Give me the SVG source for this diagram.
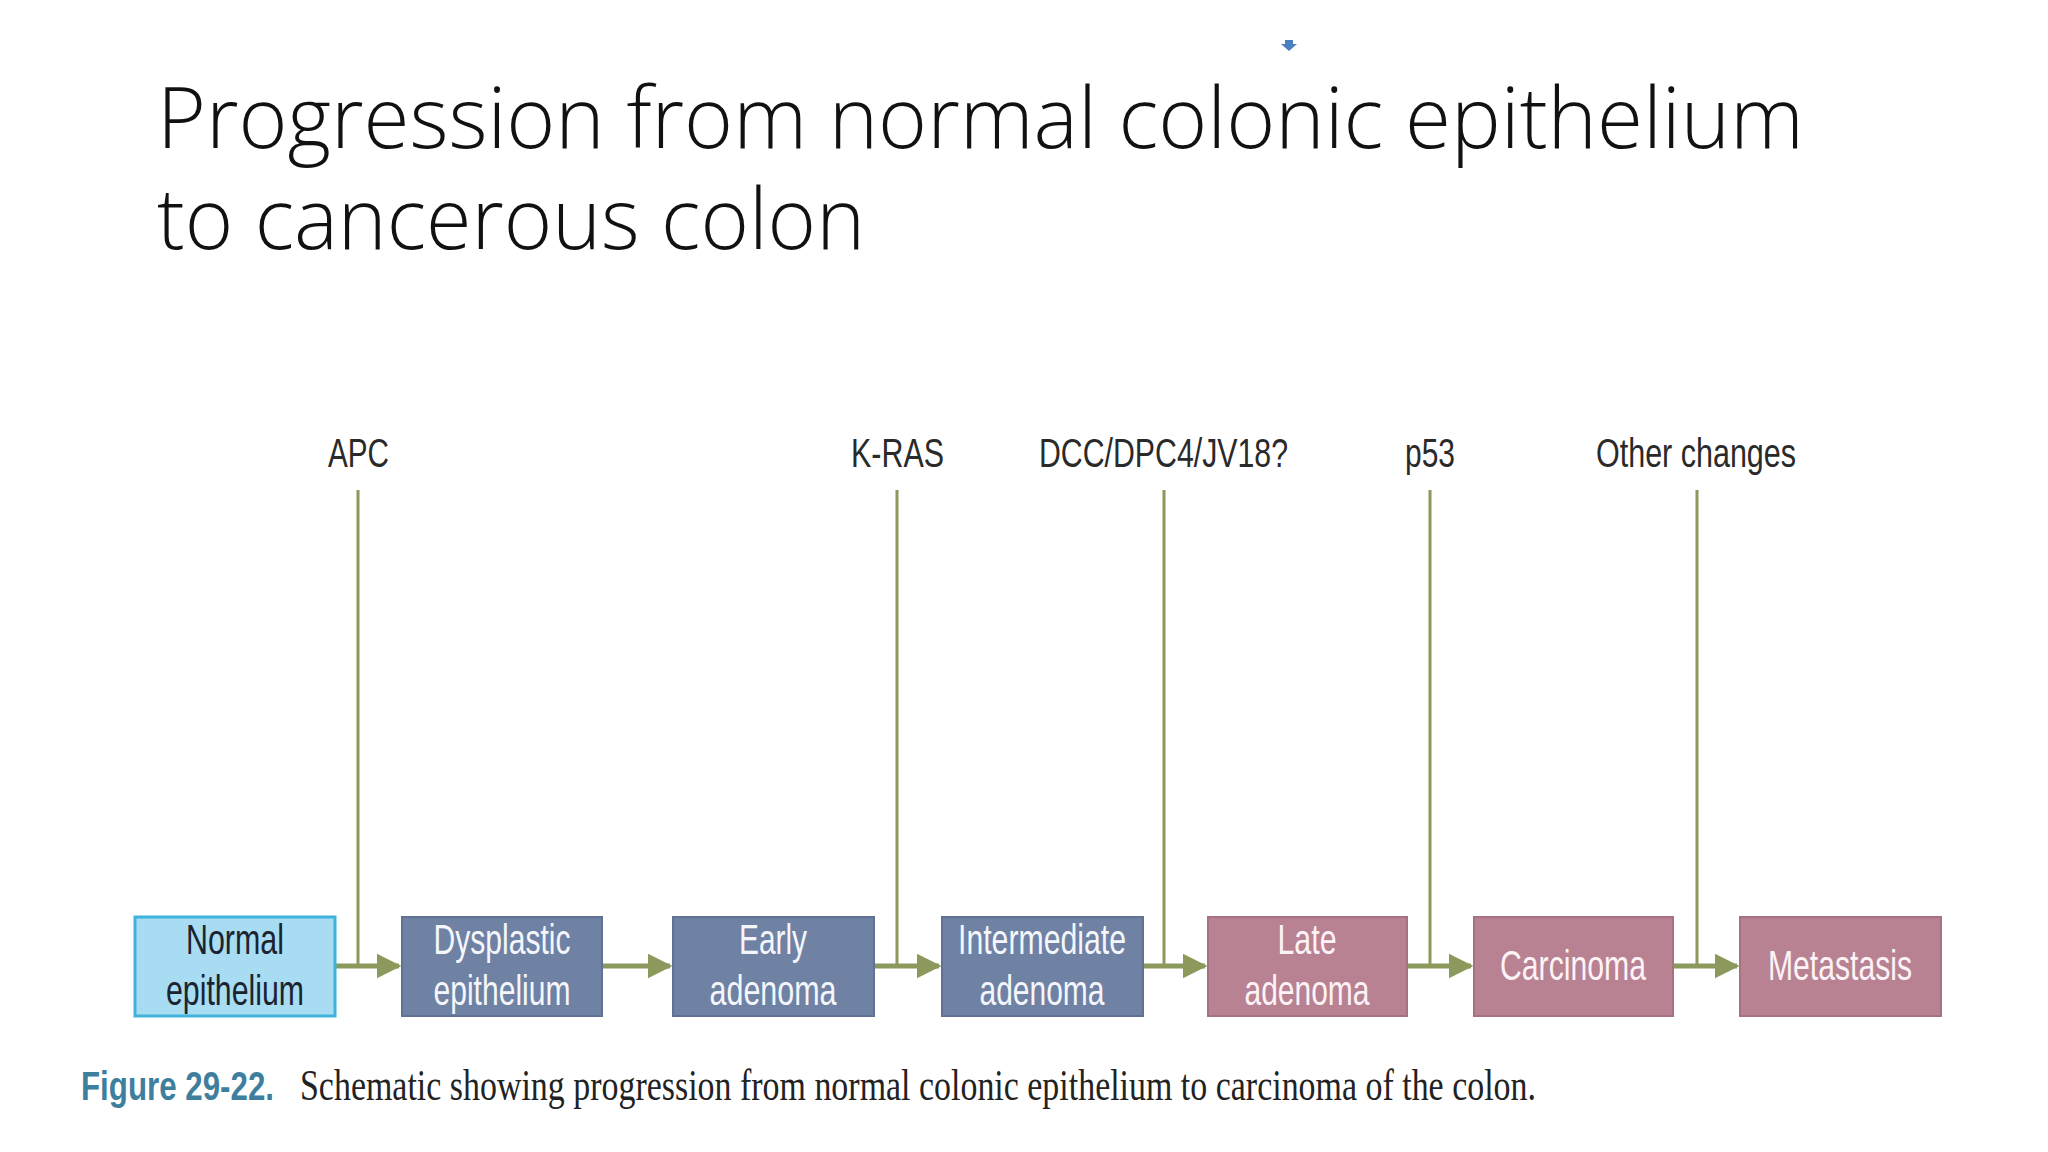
<svg xmlns="http://www.w3.org/2000/svg" width="2048" height="1152" viewBox="0 0 2048 1152">
<style>
.title{font-family:"Open Sans","Liberation Sans",sans-serif;font-weight:300;font-size:84px;fill:#111}
.lab{font-family:"Liberation Sans",Arial,sans-serif;font-size:40px;fill:#2a2a2a}
.bt{font-family:"Liberation Sans",Arial,sans-serif;font-size:42px;text-anchor:middle}
.blue rect{fill:#6f82a4;stroke:#5f7294;stroke-width:2}
.blue text{fill:#f4f6fb}
.pink rect{fill:#b88292;stroke:#a67282;stroke-width:2}
.pink text{fill:#fdf2f6}
.conn line{stroke:#8b9a5c}
.h{stroke-width:5}
.v{stroke-width:3}
</style>
<defs>
<marker id="ah" viewBox="0 0 10 10" refX="9" refY="5" markerWidth="5" markerHeight="5" orient="auto" markerUnits="strokeWidth">
<path d="M0,0 L10,5 L0,10 Z" fill="#8b9a5c"/>
</marker>
</defs>
<rect width="2048" height="1152" fill="#ffffff"/>
<path d="M1285,40 h8 v4 h4 l-8,7 l-8,-7 h4 z" fill="#4a7fc0"/>
<text class="title" x="157" y="148" textLength="1647" lengthAdjust="spacingAndGlyphs">Progression from normal colonic epithelium</text>
<text class="title" x="157" y="249" textLength="708" lengthAdjust="spacingAndGlyphs">to cancerous colon</text>

<g id="labels">
<text class="lab" x="328" y="467" textLength="61" lengthAdjust="spacingAndGlyphs">APC</text>
<text class="lab" x="851" y="467" textLength="93" lengthAdjust="spacingAndGlyphs">K-RAS</text>
<text class="lab" x="1039" y="467" textLength="249" lengthAdjust="spacingAndGlyphs">DCC/DPC4/JV18?</text>
<text class="lab" x="1405" y="467" textLength="50" lengthAdjust="spacingAndGlyphs">p53</text>
<text class="lab" x="1596" y="467" textLength="200" lengthAdjust="spacingAndGlyphs">Other changes</text>
</g>

<g id="connectors" class="conn">
<line class="v" x1="358" y1="490" x2="358" y2="966"/>
<line class="v" x1="897" y1="490" x2="897" y2="966"/>
<line class="v" x1="1164" y1="490" x2="1164" y2="966"/>
<line class="v" x1="1430" y1="490" x2="1430" y2="966"/>
<line class="v" x1="1697" y1="490" x2="1697" y2="966"/>
<line class="h" x1="335" y1="966" x2="399" y2="966" marker-end="url(#ah)"/>
<line class="h" x1="603" y1="966" x2="670" y2="966" marker-end="url(#ah)"/>
<line class="h" x1="875" y1="966" x2="939" y2="966" marker-end="url(#ah)"/>
<line class="h" x1="1144" y1="966" x2="1205" y2="966" marker-end="url(#ah)"/>
<line class="h" x1="1408" y1="966" x2="1471" y2="966" marker-end="url(#ah)"/>
<line class="h" x1="1674" y1="966" x2="1737" y2="966" marker-end="url(#ah)"/>
</g>

<g id="normal">
<rect x="135" y="917" width="200" height="99" fill="#a7dcf2" stroke="#3fb3dc" stroke-width="3"/>
<text class="bt" x="235" y="954" fill="#1c2330" textLength="98" lengthAdjust="spacingAndGlyphs">Normal</text>
<text class="bt" x="235" y="1005" fill="#1c2330" textLength="138" lengthAdjust="spacingAndGlyphs">epithelium</text>
</g>
<g id="dysplastic" class="blue">
<rect x="402" y="917" width="200" height="99"/>
<text class="bt" x="502" y="954" textLength="137" lengthAdjust="spacingAndGlyphs">Dysplastic</text>
<text class="bt" x="502" y="1005" textLength="137" lengthAdjust="spacingAndGlyphs">epithelium</text>
</g>
<g id="early" class="blue">
<rect x="673" y="917" width="201" height="99"/>
<text class="bt" x="773" y="954" textLength="68" lengthAdjust="spacingAndGlyphs">Early</text>
<text class="bt" x="773" y="1005" textLength="127" lengthAdjust="spacingAndGlyphs">adenoma</text>
</g>
<g id="intermediate" class="blue">
<rect x="942" y="917" width="201" height="99"/>
<text class="bt" x="1042" y="954" textLength="168" lengthAdjust="spacingAndGlyphs">Intermediate</text>
<text class="bt" x="1042" y="1005" textLength="125" lengthAdjust="spacingAndGlyphs">adenoma</text>
</g>
<g id="late" class="pink">
<rect x="1208" y="917" width="199" height="99"/>
<text class="bt" x="1307" y="954" textLength="59" lengthAdjust="spacingAndGlyphs">Late</text>
<text class="bt" x="1307" y="1005" textLength="125" lengthAdjust="spacingAndGlyphs">adenoma</text>
</g>
<g id="carcinoma" class="pink">
<rect x="1474" y="917" width="199" height="99"/>
<text class="bt" x="1573" y="980" textLength="146" lengthAdjust="spacingAndGlyphs">Carcinoma</text>
</g>
<g id="metastasis" class="pink">
<rect x="1740" y="917" width="201" height="99"/>
<text class="bt" x="1840" y="980" textLength="144" lengthAdjust="spacingAndGlyphs">Metastasis</text>
</g>

<g id="caption">
<text x="81" y="1100" font-family="Liberation Sans,Arial,sans-serif" font-weight="bold" font-size="40" fill="#3f7f9e" textLength="193" lengthAdjust="spacingAndGlyphs">Figure 29-22.</text>
<text x="300" y="1100" font-family="Liberation Serif,Times New Roman,serif" font-size="44" fill="#222" textLength="1236" lengthAdjust="spacingAndGlyphs">Schematic showing progression from normal colonic epithelium to carcinoma of the colon.</text>
</g>
</svg>
